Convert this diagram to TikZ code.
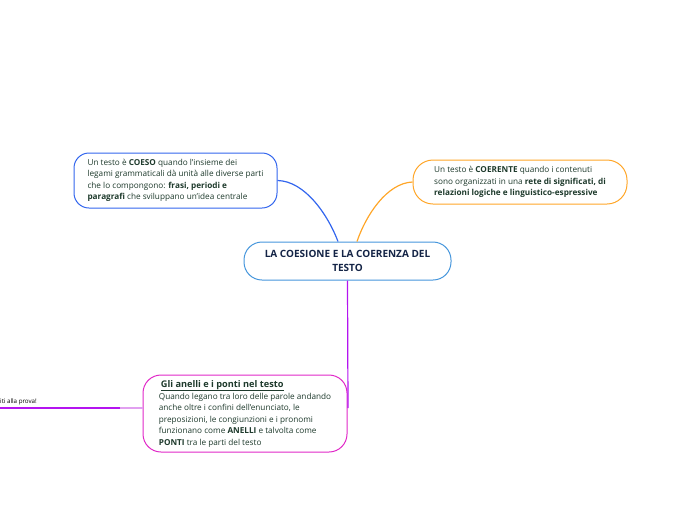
\documentclass[tikz,border=0pt]{standalone}
\usepackage{fontspec}
\setmainfont{Open Sans}
\usetikzlibrary{positioning}

\definecolor{inkgreen}{RGB}{30,58,44}
\definecolor{navytext}{RGB}{20,36,70}
\definecolor{coesoblue}{RGB}{51,102,238}
\definecolor{centreblue}{RGB}{70,150,220}
\definecolor{coerorange}{RGB}{255,166,40}
\definecolor{ponteline}{RGB}{180,20,240}
\definecolor{pontepale}{RGB}{225,160,240}
\definecolor{pontebox}{RGB}{225,40,200}

\begin{document}
\begin{tikzpicture}[x=1pt,y=-1pt]
    \tikzset{
        topic/.style={draw,line width=1pt,fill=white,inner sep=0pt,
            font=\fontsize{8.2}{11.5}\selectfont,text=inkgreen,align=left},
        centre/.style={draw=centreblue,line width=1pt,fill=white,rounded corners=18pt,
            minimum width=207pt,minimum height=38pt,inner sep=0pt,
            font=\fontsize{10}{14}\selectfont\bfseries,text=navytext,align=center},
        link/.style={line width=1.2pt}
    }
    \useasboundingbox (0,0) rectangle (696,520);
    \clip (0,0) rectangle (696,520);

    % connectors (drawn first, boxes cover the ends)
    \coordinate (pontejoin) at (348,408);
    \coordinate (leftend) at (-5,408);
    \coordinate (fade) at (120,408);

    % central topic
    \node[centre] (central) at (347.5,261) {LA COESIONE E LA COERENZA DEL\\TESTO};

    % COESO
    \node[topic,draw=coesoblue,rounded corners=15pt,
        minimum width=203pt,minimum height=55pt] (coeso) at (175.5,180.5)
        {Un testo è \textbf{COESO} quando l'insieme dei\\
         legami grammaticali dà unità alle diverse parti\\
         che lo compongono: \textbf{frasi, periodi e}\\
         \textbf{paragrafi} che sviluppano un'idea centrale};

    % COERENTE
    \node[topic,draw=coerorange,rounded corners=20pt,
        minimum width=214pt,minimum height=44pt] (coerente) at (520,182)
        {Un testo è \textbf{COERENTE} quando i contenuti\\
         sono organizzati in una \textbf{rete di significati, di}\\
         \textbf{relazioni logiche e linguistico-espressive}};

    % anelli e ponti
    \node[topic,draw=pontebox,rounded corners=18pt,
        minimum width=204pt,minimum height=77pt] (ponti) at (245,413.5)
        {\hspace*{2pt}{\fontsize{9.2}{11.5}\selectfont\textbf{\underline{Gli anelli e i ponti nel testo}}}\\[0.5pt]
         Quando legano tra loro delle parole andando\\
         anche oltre i confini dell'enunciato, le\\
         preposizioni, le congiunzioni e i pronomi\\
         funzionano come \textbf{ANELLI} e talvolta come\\
         \textbf{PONTI} tra le parti del testo};

    \draw[link,coesoblue] (coeso.east) .. controls (305,181) and (328,215) .. ([xshift=-9.5pt]central.north);
    \draw[link,coerorange] (coerente.west) .. controls (387,183) and (366,215) .. ([xshift=9.5pt]central.north);
    \draw[link,ponteline] (central.south) -- (pontejoin);
    \draw[link,pontepale] (ponti.west |- fade) -- (fade);
    \draw[link,ponteline] (fade) -- (leftend);

    % cut-off label on the left
    \node[anchor=south east,inner sep=1pt,font=\fontsize{6.2}{7}\selectfont,text=black]
        (prova) at (38,406) {Mettiti alla prova!};
\end{tikzpicture}
\end{document}
